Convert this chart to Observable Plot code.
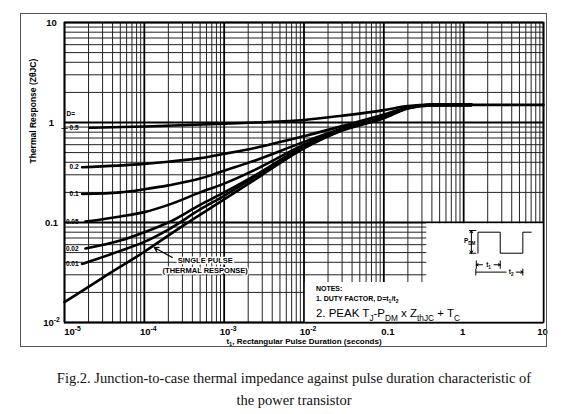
<!DOCTYPE html>
<html><head><meta charset="utf-8">
<script src="https://cdn.jsdelivr.net/npm/d3@7"></script>
<script src="https://cdn.jsdelivr.net/npm/@observablehq/plot@0.6"></script>
<style>
body{margin:0;background:#fff;}
#wrap{position:relative;width:575px;height:414px;overflow:hidden;}
#border{position:absolute;left:20px;top:13px;width:527px;height:334px;border:1px solid #555;box-sizing:border-box;pointer-events:none;}
#cap{font-family:"Liberation Serif","Times New Roman",serif;font-size:14.5px;line-height:22px;text-align:center;padding-top:11px;padding-left:13px;color:#111;}
#chart svg{display:block;}
</style></head><body>
<div id="wrap"><div id="chart"></div><div id="cap">Fig.2. Junction-to-case thermal impedance against pulse duration characteristic of<br>the power transistor</div><div id="border"></div></div>
<script>
// ---- data (t in seconds, Z in thermal response units) ----
const tSingle = [1e-5, 3e-5, 1e-4, 3e-4, 1e-3, 3e-3, 1e-2, 3e-2, 0.1, 0.2, 0.4, 1, 10];
const zSingle = [0.016, 0.028, 0.051, 0.092, 0.17, 0.30, 0.55, 0.83, 1.1, 1.38, 1.48, 1.5, 1.5];
const tD05 = [2.07e-5, 1e-4, 1e-3, 2.5e-3, 1e-2, 3e-2, 0.1, 0.2, 0.4, 1.25];
const zD05 = [0.885, 0.912, 0.97, 1.0, 1.06, 1.17, 1.33, 1.46, 1.5, 1.5];
const tD02 = [1.66e-5, 1e-4, 2e-4, 5e-4, 1e-3, 2.5e-3, 1e-2, 3e-2, 0.1, 0.2, 0.4, 1.25];
const zD02 = [0.357, 0.386, 0.405, 0.44, 0.486, 0.56, 0.73, 0.92, 1.2, 1.42, 1.5, 1.5];
const tD01 = [1.66e-5, 5e-5, 1e-4, 2e-4, 5e-4, 1e-3, 2.5e-3, 1e-2, 3e-2, 0.1, 0.2, 0.4, 1.25];
const zD01 = [0.193, 0.2, 0.215, 0.235, 0.275, 0.33, 0.42, 0.64, 0.87, 1.15, 1.41, 1.5, 1.5];
const tD005 = [1.83e-5, 5e-5, 1e-4, 2e-4, 5e-4, 1e-3, 2.5e-3, 1e-2, 3e-2, 0.1, 0.2, 0.4, 1.25];
const zD005 = [0.102, 0.115, 0.127, 0.15, 0.2, 0.245, 0.34, 0.6, 0.85, 1.13, 1.4, 1.5, 1.5];
const tD002 = [1.83e-5, 5e-5, 1e-4, 2e-4, 5e-4, 1e-3, 2.5e-3, 1e-2, 3e-2, 0.1, 0.2, 0.4, 1.25];
const zD002 = [0.055, 0.066, 0.08, 0.1, 0.15, 0.2, 0.3, 0.58, 0.84, 1.12, 1.4, 1.5, 1.5];
const tD001 = [1.66e-5, 5e-5, 1e-4, 2e-4, 5e-4, 1e-3, 2.5e-3, 1e-2, 3e-2, 0.1, 0.2, 0.4, 1.25];
const zD001 = [0.0385, 0.052, 0.064, 0.085, 0.135, 0.185, 0.29, 0.57, 0.84, 1.12, 1.4, 1.5, 1.5];
const dLabels = ["— 0.5", "0.2", "0.1", "0.05", "0.02", "0.01"];

const xTicks = [1e-5, 1e-4, 1e-3, 1e-2, 0.1, 1, 10];
const xTickLabels = ["10^{-5}", "10^{-4}", "10^{-3}", "10^{-2}", "0.1", "1", "10"];
const yTicks = [0.01, 0.1, 1, 10];
const yTickLabels = ["10^{-2}", "0.1", "1", "10"];

// blank (grid-free) boxes behind notes and pulse sketch
const blankX1 = [0.0104, 0.345];
const blankX2 = [10, 10];
const blankY1 = [0.01, 0.01];
const blankY2 = [0.0251, 0.097];

// pulse sketch
const pulseT = [1.51, 1.51, 2.87, 2.87, 5.51, 5.51, 7.01];
const pulseZ = [0.0493, 0.080, 0.080, 0.0493, 0.0493, 0.080, 0.080];
const arrX1 = [1.25, 1.25, 1.72, 2.4, 4.55];
const arrY1 = [0.064, 0.064, 0.0378, 0.0378, 0.0319];
const arrX2 = [1.25, 1.25, 1.44, 2.87, 5.51];
const arrY2 = [0.0832, 0.0493, 0.0378, 0.0378, 0.0319];
const segX1 = [1.17, 1.17, 1.44, 2.87, 1.42, 1.42, 5.51];
const segY1 = [0.0832, 0.0493, 0.0417, 0.0417, 0.0319, 0.0345, 0.0345];
const segX2 = [1.44, 1.44, 1.44, 2.87, 3.45, 1.42, 5.51];
const segY2 = [0.0832, 0.0493, 0.0345, 0.0345, 0.0319, 0.0295, 0.0295];
const sketchLabels = ["P_{DM}", "t_{1}", "t_{2}"];
const sketchLabT = [1.19, 2.05, 3.94];
const sketchLabZ = [0.066, 0.0378, 0.0319];

// single pulse annotation
const spArrow = [{x1: 2.24e-4, y1: 0.0447, x2: 1.33e-4, y2: 0.0562}];
const spText = ["SINGLE PULSE", "(THERMAL RESPONSE)"];
const spT = [5.79e-4, 5.79e-4];
const spZ = [0.0417, 0.0331];

// notes
const notes = ["NOTES:", "1. DUTY FACTOR, D=t_{1}/t_{2}"];
const notesZ = [0.0220, 0.01726];
const note2 = "2. PEAK T_{J}-P_{DM} x Z_{thJC} + T_{C}";
const note2Z = 0.0123;
const notesT = 0.0141;

// ---- build tables ----
const series = [
  {key: "0.5", t: tD05, z: zD05},
  {key: "0.2", t: tD02, z: zD02},
  {key: "0.1", t: tD01, z: zD01},
  {key: "0.05", t: tD005, z: zD005},
  {key: "0.02", t: tD002, z: zD002},
  {key: "0.01", t: tD001, z: zD001},
  {key: "single", t: tSingle, z: zSingle}
];
const rows = series.flatMap(s => s.t.map((t, i) => ({key: s.key, t, z: s.z[i]})));
const labelRows = series.slice(0, 6).map((s, i) => ({label: dLabels[i], z: s.z[0]}));

const logX = d3.scaleLog().domain([1e-5, 10]);
const logY = d3.scaleLog().domain([0.01, 10]);
const xMinor = logX.ticks().filter(v => !xTicks.some(m => Math.abs(m - v) / m < 1e-6));
const yMinor = logY.ticks().filter(v => !yTicks.some(m => Math.abs(m - v) / m < 1e-6));
const blanks = blankX1.map((x1, i) => ({x1, x2: blankX2[i], y1: blankY1[i], y2: blankY2[i]}));
const arrows = arrX1.map((x1, i) => ({x1, y1: arrY1[i], x2: arrX2[i], y2: arrY2[i]}));
const segs = segX1.map((x1, i) => ({x1, y1: segY1[i], x2: segX2[i], y2: segY2[i]}));

const F = "Liberation Sans, Arial, Helvetica, sans-serif";
const xt = xTicks.map((v, i) => ({v, s: xTickLabels[i], i}));

const plot = Plot.plot({
  width: 575, height: 356,
  marginLeft: 64, marginRight: 32, marginTop: 22, marginBottom: 34,
  style: {fontFamily: F, background: "white", color: "#000"},
  x: {type: "log", domain: [1e-5, 10], axis: null},
  y: {type: "log", domain: [0.01, 10], axis: null},
  marks: [
    Plot.ruleX(xMinor, {stroke: "#222", strokeWidth: 1}),
    Plot.ruleY(yMinor, {stroke: "#222", strokeWidth: 1}),
    Plot.ruleX(xTicks, {stroke: "#000", strokeWidth: 1.8}),
    Plot.ruleY(yTicks, {stroke: "#000", strokeWidth: 1.8}),
    Plot.rect(blanks, {x1: "x1", x2: "x2", y1: "y1", y2: "y2", fill: "white"}),
    Plot.frame({stroke: "#000", strokeWidth: 1.5}),
    Plot.line(rows, {x: "t", y: "z", z: "key", curve: "monotone-x", stroke: "#000", strokeWidth: 2.6}),
    // D labels
    Plot.text(labelRows, {x: () => 1.5e-5, y: "z", text: "label", textAnchor: "end", fontSize: 6.5, fontWeight: "bold", fontFamily: F}),
    Plot.text(["D="], {x: () => 1e-5, y: () => 1.22, textAnchor: "start", dx: 2, fontSize: 6.5, fontWeight: "bold", fontFamily: F}),
    // single pulse annotation
    Plot.arrow(spArrow, {x1: "x1", y1: "y1", x2: "x2", y2: "y2", stroke: "#000", strokeWidth: 1.2, headLength: 6}),
    Plot.text(spText, {x: (d, i) => spT[i], y: (d, i) => spZ[i], text: d => d, fontSize: 7.5, fontWeight: "bold", fontFamily: F, stroke: "white", strokeWidth: 3, paintOrder: "stroke", fill: "#000"}),
    // notes
    Plot.text(notes, {x: () => notesT, y: (d, i) => notesZ[i], text: d => d, textAnchor: "start", fontSize: 7, fontWeight: "bold", fontFamily: F}),
    Plot.text([note2], {x: () => notesT, y: () => note2Z, text: d => d, textAnchor: "start", fontSize: 11.5, fontFamily: F}),
    // pulse sketch
    Plot.line(pulseT.map((t, i) => ({t, z: pulseZ[i]})), {x: "t", y: "z", stroke: "#000", strokeWidth: 1}),
    Plot.arrow(arrows, {x1: "x1", y1: "y1", x2: "x2", y2: "y2", stroke: "#000", strokeWidth: 1, headLength: 4}),
    Plot.link(segs, {x1: "x1", y1: "y1", x2: "x2", y2: "y2", stroke: "#000", strokeWidth: 1}),
    Plot.text(sketchLabels, {x: (d, i) => sketchLabT[i], y: (d, i) => sketchLabZ[i], text: d => d, textAnchor: (d, i) => i === 0 ? "end" : "middle", fontSize: 6.5, fontWeight: "bold", fontFamily: F}),
    // tick labels
    Plot.text(xt.filter(d => d.i === 0), {x: "v", y: () => 0.01, text: "s", dy: 9, dx: 8, fontSize: 9.5, fontWeight: "bold", fontFamily: F}),
    Plot.text(xt.filter(d => d.i > 0 && d.i < 5), {x: "v", y: () => 0.01, text: "s", dy: 9, dx: 4, fontSize: 9.5, fontWeight: "bold", fontFamily: F}),
    Plot.text(xt.filter(d => d.i >= 5), {x: "v", y: () => 0.01, text: "s", dy: 9, dx: -1, fontSize: 9.5, fontWeight: "bold", fontFamily: F}),
    Plot.text(yTicks.map((v, i) => ({v, s: yTickLabels[i]})), {x: () => 1e-5, y: "v", text: "s", dx: -13, fontSize: 9.5, fontWeight: "bold", fontFamily: F}),
    // axis titles
    Plot.text(["Thermal Response (ZθJC)"], {frameAnchor: "left", rotate: -90, dx: -31, dy: -9, fontSize: 8.5, fontWeight: "bold", fontFamily: F}),
    Plot.text(["t_{1}, Rectangular Pulse Duration (seconds)"], {frameAnchor: "bottom", dy: 21, fontSize: 8, fontWeight: "bold", fontFamily: F})
  ]
});

// rich text: ^{..} superscript, _{..} subscript
function rich(svg) {
  svg.querySelectorAll("text").forEach(el => {
    const s = el.textContent;
    if (!/[\^_]\{/.test(s)) return;
    const fEl = el.closest("[font-size]");
    const fs = fEl ? parseFloat(fEl.getAttribute("font-size")) : 10;
    while (el.firstChild) el.removeChild(el.firstChild);
    const re = /([\^_])\{([^}]*)\}/g;
    let last = 0, m, cur = 0;
    const add = (txt, off, small) => {
      if (!txt) return;
      const ts = document.createElementNS("http://www.w3.org/2000/svg", "tspan");
      ts.setAttribute("dy", (off - cur).toFixed(2));
      cur = off;
      if (small) ts.setAttribute("font-size", (fs * 0.72).toFixed(2));
      ts.textContent = txt;
      el.appendChild(ts);
    };
    while ((m = re.exec(s))) {
      add(s.slice(last, m.index), 0, false);
      add(m[2], m[1] === "^" ? -fs * 0.42 : fs * 0.3, true);
      last = re.lastIndex;
    }
    add(s.slice(last), 0, false);
  });
}
rich(plot);
document.getElementById("chart").appendChild(plot);
</script>
</body></html>
